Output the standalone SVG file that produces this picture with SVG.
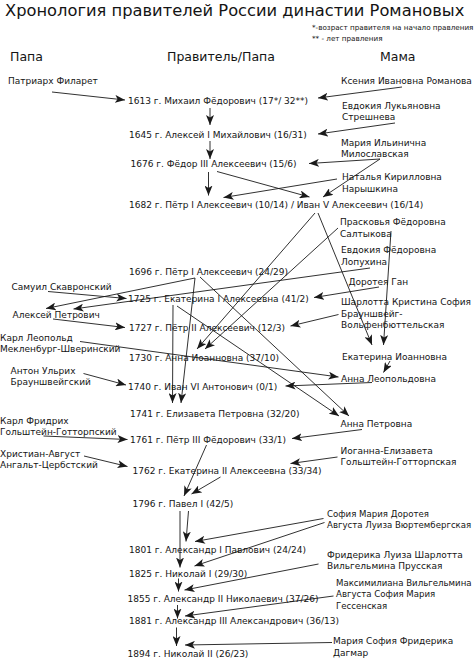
<svg xmlns="http://www.w3.org/2000/svg" width="474" height="658" viewBox="0 0 474 658">
<style>
text{font-family:"DejaVu Sans","Liberation Sans",sans-serif;fill:#141414}
.t{font-size:16.3px}
.h{font-size:12.5px}
.n{font-size:9px}
.m{font-size:8.6px}
.s{font-size:7.2px}
.c line{stroke:#1a1a1a;stroke-width:0.9;marker-end:url(#a)}
</style>
<defs>
<marker id="a" markerUnits="userSpaceOnUse" markerWidth="11" markerHeight="8" refX="10" refY="4" orient="auto">
<path d="M0,0 L10,4 L0,8 L2.5,4 z" fill="#1a1a1a"/>
</marker>
</defs>
<rect width="474" height="658" fill="#fff"/>
<g id="title">
<text class="t" x="5" y="16">Хронология правителей России династии Романовых</text>
<text class="s" x="312" y="30">*-возраст правителя на начало правления</text>
<text class="s" x="312" y="41">** - лет правления</text>
</g>
<g id="headers">
<text class="h" x="10" y="61">Папа</text>
<text class="h" x="167" y="61">Правитель/Папа</text>
<text class="h" x="380" y="61">Мама</text>
</g>
<g id="rulers" class="n">
<g id="r1613"><text class="n" x="128" y="104">1613 г. Михаил Фёдорович (17*/ 32**)</text></g>
<g id="r1645"><text class="n" x="129" y="137.5">1645 г. Алексей I Михайлович (16/31)</text></g>
<g id="r1676"><text class="n" x="130.5" y="167">1676 г. Фёдор III Алексеевич (15/6)</text></g>
<g id="r1682"><text class="n" x="129" y="208">1682 г. Пётр I Алексеевич (10/14) / Иван V Алексеевич (16/14)</text></g>
<g id="r1696"><text class="n" x="129" y="275">1696 г. Пётр I Алексеевич (24/29)</text></g>
<g id="r1725"><text class="n" x="128" y="302">1725 г. Екатерина I Алексеевна (41/2)</text></g>
<g id="r1727"><text class="n" x="129" y="330.5">1727 г. Пётр II Алексеевич (12/3)</text></g>
<g id="r1730"><text class="n" x="129" y="361">1730 г. Анна Иоанновна (37/10)</text></g>
<g id="r1740"><text class="n" x="128" y="390">1740 г. Иван VI Антонович (0/1)</text></g>
<g id="r1741"><text class="n" x="130" y="416.5">1741 г. Елизавета Петровна (32/20)</text></g>
<g id="r1761"><text class="n" x="130" y="442.5">1761 г. Пётр III Фёдорович (33/1)</text></g>
<g id="r1762"><text class="n" x="132.5" y="474">1762 г. Екатерина II Алексеевна (33/34)</text></g>
<g id="r1796"><text class="n" x="132.5" y="506.5">1796 г. Павел I (42/5)</text></g>
<g id="r1801"><text class="n" x="129" y="553">1801 г. Александр I Павлович (24/24)</text></g>
<g id="r1825"><text class="n" x="129" y="576.5">1825 г. Николай I (29/30)</text></g>
<g id="r1855"><text class="n" x="127.5" y="601.5">1855 г. Александр II Николаевич (37/26)</text></g>
<g id="r1881"><text class="n" x="129" y="624">1881 г. Александр III Александрович (36/13)</text></g>
<g id="r1894"><text class="n" x="127.5" y="656.5">1894 г. Николай II (26/23)</text></g>
</g>
<g id="fathers">
<g id="filaret"><text class="n" x="8" y="84">Патриарх Филарет</text></g>
<g id="skavronsky"><text class="n" x="11.5" y="289.5">Самуил Скавронский</text></g>
<g id="aleksey"><text class="n" x="12.5" y="318">Алексей Петрович</text></g>
<g id="karlleopold"><text class="n" x="0" y="340.5">Карл Леопольд<tspan x="0" dy="11">Мекленбург-Шверинский</tspan></text></g>
<g id="anton"><text class="n" x="10.5" y="374">Антон Ульрих<tspan x="10.5" dy="11">Брауншвейгский</tspan></text></g>
<g id="karlfriedrich"><text class="n" x="0" y="424">Карл Фридрих<tspan x="0" dy="11">Гольштейн-Готторпский</tspan></text></g>
<g id="christian"><text class="n" x="0" y="457">Христиан-Август<tspan x="0" dy="11">Ангальт-Цербстский</tspan></text></g>
</g>
<g id="mothers">
<g id="ksenia"><text class="n" x="341" y="84">Ксения Ивановна Романова</text></g>
<g id="evdokia1"><text class="n" x="342" y="109">Евдокия Лукьяновна<tspan x="342" dy="11">Стрешнева</tspan></text></g>
<g id="maria1"><text class="n" x="341" y="145.5">Мария Ильинична<tspan x="341" dy="11">Милославская</tspan></text></g>
<g id="natalia"><text class="n" x="342" y="180">Наталья Кирилловна<tspan x="342" dy="11.5">Нарышкина</tspan></text></g>
<g id="praskovia"><text class="n" x="340" y="225">Прасковья Фёдоровна<tspan x="340" dy="12">Салтыкова</tspan></text></g>
<g id="evdokia2"><text class="n" x="341" y="253">Евдокия Фёдоровна<tspan x="341" dy="12">Лопухина</tspan></text></g>
<g id="dorotea"><text class="n" x="348.5" y="285">Доротея Ган</text></g>
<g id="charlotte"><text class="n" x="341" y="305">Шарлотта Кристина София<tspan x="341" dy="11.5">Брауншвейг-</tspan><tspan x="341" dy="11.5">Вольфенбюттельская</tspan></text></g>
<g id="ekaterinaI"><text class="n" x="342" y="359.5">Екатерина Иоанновна</text></g>
<g id="annaL"><text class="n" x="341" y="381.5">Анна Леопольдовна</text></g>
<g id="annaP"><text class="n" x="340.5" y="426.5">Анна Петровна</text></g>
<g id="ioganna"><text class="n" x="340.5" y="454">Иоганна-Елизавета<tspan x="340.5" dy="11">Гольштейн-Готторпская</tspan></text></g>
<g id="sofia"><text class="m" x="327" y="516.5">София Мария Доротея<tspan x="327" dy="11">Августа Луиза Вюртембергская</tspan></text></g>
<g id="friderika"><text class="n" x="327" y="557.5">Фридерика Луиза Шарлотта<tspan x="327" dy="11.5">Вильгельмина Прусская</tspan></text></g>
<g id="maximiliana"><text class="m" x="336" y="585.5">Максимилиана Вильгельмина<tspan x="336" dy="11.5">Августа София Мария</tspan><tspan x="336" dy="11.5">Гессенская</tspan></text></g>
<g id="dagmar"><text class="n" x="333" y="644">Мария София Фридерика<tspan x="333" dy="11.5">Дагмар</tspan></text></g>
</g>
<g id="connectors" class="c">
<line x1="52" y1="92" x2="125" y2="100"/>
<line x1="402" y1="87" x2="318" y2="98"/>
<line x1="210" y1="108" x2="210" y2="125"/>
<line x1="395" y1="123" x2="318" y2="134"/>
<line x1="210" y1="141" x2="210" y2="159"/>
<line x1="380" y1="159" x2="309" y2="163.5"/>
<line x1="380" y1="159" x2="323" y2="197"/>
<line x1="217" y1="171.5" x2="309.5" y2="197"/>
<line x1="337" y1="179" x2="223.5" y2="197.5"/>
<line x1="208.5" y1="172" x2="208.5" y2="195.5"/>
<line x1="315" y1="213" x2="197" y2="349"/>
<line x1="338" y1="228" x2="205" y2="349"/>
<line x1="318" y1="213" x2="372" y2="345"/>
<line x1="391" y1="231" x2="383.5" y2="345"/>
<line x1="195" y1="278" x2="46" y2="308.5"/>
<line x1="370" y1="268" x2="73.5" y2="309"/>
<line x1="48" y1="291.5" x2="126.5" y2="298.5"/>
<line x1="379" y1="287" x2="314" y2="297.5"/>
<line x1="53" y1="319" x2="125" y2="327.5"/>
<line x1="338.5" y1="314.5" x2="290.5" y2="326"/>
<line x1="195" y1="278" x2="181" y2="403"/>
<line x1="200" y1="277" x2="349" y2="416"/>
<line x1="173" y1="305" x2="172.5" y2="403"/>
<line x1="177" y1="306" x2="339" y2="416"/>
<line x1="80" y1="341.5" x2="338.5" y2="377"/>
<line x1="390" y1="361" x2="383.5" y2="372.5"/>
<line x1="83.5" y1="373.5" x2="126" y2="385"/>
<line x1="372" y1="382.5" x2="285.5" y2="386"/>
<line x1="43.5" y1="436" x2="127.5" y2="439.5"/>
<line x1="362" y1="429.5" x2="292" y2="438.5"/>
<line x1="84" y1="456" x2="127.5" y2="466.5"/>
<line x1="337.5" y1="457" x2="290.5" y2="463.5"/>
<line x1="206.5" y1="445" x2="184" y2="496"/>
<line x1="220.5" y1="477" x2="191.5" y2="494"/>
<line x1="188.5" y1="511" x2="186" y2="541.5"/>
<line x1="180" y1="511" x2="180" y2="567.5"/>
<line x1="323.5" y1="518.5" x2="195" y2="541.5"/>
<line x1="324.5" y1="522.5" x2="194.5" y2="566"/>
<line x1="318.5" y1="564" x2="184.5" y2="590"/>
<line x1="178.5" y1="578.5" x2="178.5" y2="591.5"/>
<line x1="333.5" y1="596" x2="185" y2="616"/>
<line x1="177.5" y1="605" x2="177.5" y2="618.5"/>
<line x1="332" y1="642.5" x2="185" y2="645"/>
<line x1="176.5" y1="627.5" x2="176.5" y2="646"/>
</g>
</svg>
